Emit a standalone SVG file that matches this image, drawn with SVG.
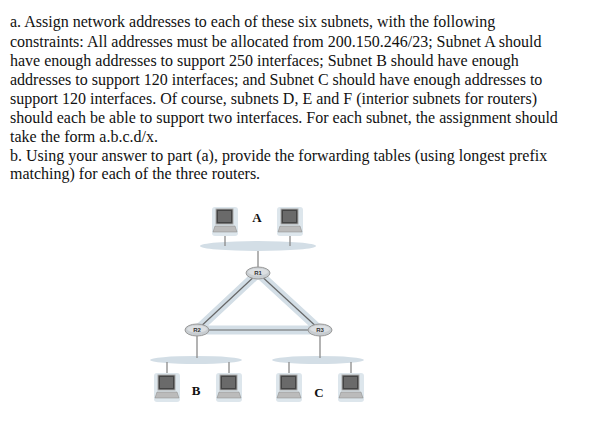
<svg xmlns="http://www.w3.org/2000/svg" width="613" height="431" viewBox="0 0 613 431">
<defs>
<style>
.t{font-family:"Liberation Serif",serif;font-size:16px;fill:#111}
.lbl{font-family:"Liberation Serif",serif;font-size:13px;font-weight:bold;fill:#111}
.rl{font-family:"Liberation Sans",sans-serif;font-size:6px;font-weight:bold;fill:#333}
.net{fill:#d3dee6}
.wire{stroke:#8a8a8a;stroke-width:1.3;fill:none}
.link{stroke:#666;stroke-width:1.2;fill:none}
</style>
<g id="pc">
<rect x="-13" y="-14" width="26" height="29" rx="3" fill="#dde6ec"/>
<rect x="-9" y="-12" width="17" height="15" fill="#444" stroke="#aaa"/>
<rect x="-7" y="-10" width="13" height="11" fill="#6a6a6a"/>
<path d="M-10 5 L10 5 L12 11 L-12 11 Z" fill="#bbb" stroke="#888" stroke-width="0.5"/>
</g>
<g id="rt">
<ellipse cx="0" cy="0" rx="12" ry="6" fill="#c8cdd1" stroke="#999"/>
<ellipse cx="0" cy="-1" rx="10" ry="3.5" fill="#dcdfe2"/>
</g>
</defs>
<rect width="613" height="431" fill="#fff"/>
<g id="text">
<text class="t" x="10" y="27">a. Assign network addresses to each of these six subnets, with the following</text>
<text class="t" x="10" y="47">constraints: All addresses must be allocated from 200.150.246/23; Subnet A should</text>
<text class="t" x="10" y="66">have enough addresses to support 250 interfaces; Subnet B should have enough</text>
<text class="t" x="10" y="85">addresses to support 120 interfaces; and Subnet C should have enough addresses to</text>
<text class="t" x="10" y="104">support 120 interfaces. Of course, subnets D, E and F (interior subnets for routers)</text>
<text class="t" x="10" y="123">should each be able to support two interfaces. For each subnet, the assignment should</text>
<text class="t" x="10" y="142">take the form a.b.c.d/x.</text>
<text class="t" x="10" y="161">b. Using your answer to part (a), provide the forwarding tables (using longest prefix</text>
<text class="t" x="10" y="179">matching) for each of the three routers.</text>
</g>
<g id="subnets">
<ellipse class="net" cx="258" cy="246" rx="58" ry="5"/>
<ellipse class="net" cx="196" cy="360" rx="46" ry="4"/>
<ellipse class="net" cx="318" cy="360" rx="46" ry="4"/>
<path d="M258 273 L197 330 L320 330 Z" fill="none" stroke="#d3dee6" stroke-width="9" stroke-linejoin="round"/>
</g>
<g id="connectors">
<line class="wire" x1="225" y1="236" x2="225" y2="246"/>
<line class="wire" x1="290" y1="236" x2="290" y2="246"/>
<line class="wire" x1="258" y1="251" x2="258" y2="270"/>
<line class="link" x1="258" y1="273" x2="197" y2="330"/>
<line class="link" x1="258" y1="273" x2="320" y2="330"/>
<line class="link" x1="197" y1="330" x2="320" y2="330"/>
<line class="wire" x1="197" y1="335" x2="197" y2="358"/>
<line class="wire" x1="320" y1="335" x2="320" y2="358"/>
<line class="wire" x1="167" y1="362" x2="167" y2="374"/>
<line class="wire" x1="229" y1="362" x2="229" y2="374"/>
<line class="wire" x1="289" y1="362" x2="289" y2="374"/>
<line class="wire" x1="351" y1="362" x2="351" y2="374"/>
</g>
<g id="A"><use href="#pc" x="225" y="221"/><use href="#pc" x="290" y="221"/><text class="lbl" x="257" y="222" text-anchor="middle">A</text></g>
<g id="R1"><use href="#rt" x="258" y="273"/><text class="rl" x="258" y="275" text-anchor="middle">R1</text></g>
<g id="R2"><use href="#rt" x="197" y="330"/><text class="rl" x="197" y="332" text-anchor="middle">R2</text></g>
<g id="R3"><use href="#rt" x="320" y="330"/><text class="rl" x="320" y="332" text-anchor="middle">R3</text></g>
<g id="B"><use href="#pc" x="167" y="387"/><use href="#pc" x="229" y="387"/><text class="lbl" x="196" y="395" text-anchor="middle">B</text></g>
<g id="C"><use href="#pc" x="289" y="387"/><use href="#pc" x="351" y="387"/><text class="lbl" x="319" y="397" text-anchor="middle">C</text></g>
</svg>
